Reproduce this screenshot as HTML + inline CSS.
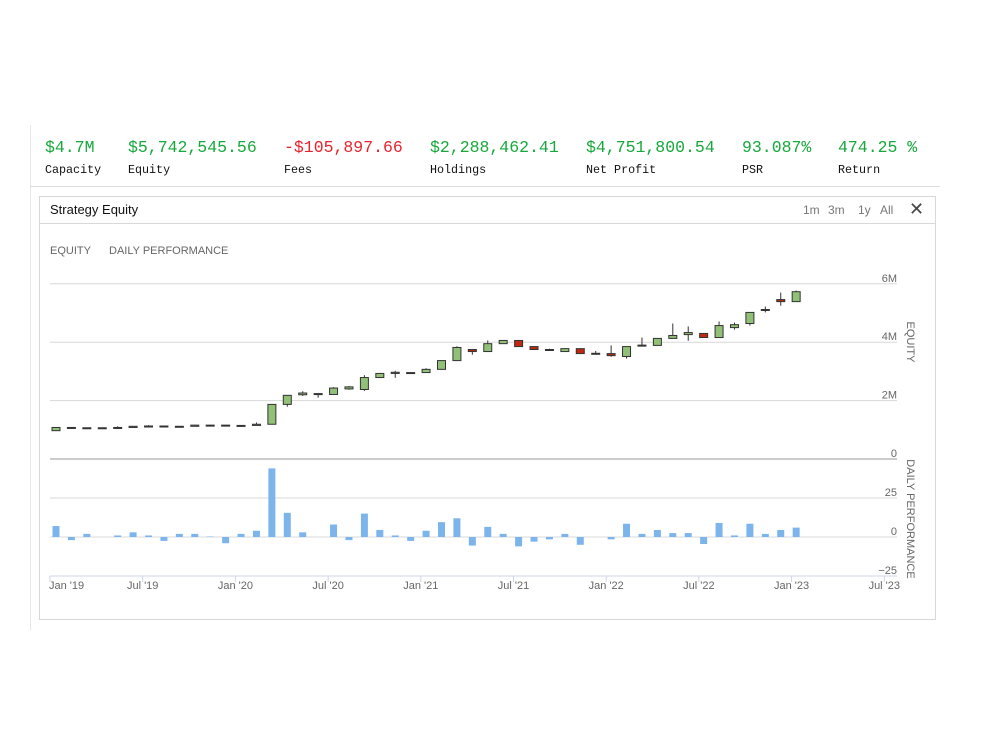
<!DOCTYPE html>
<html><head><meta charset="utf-8">
<style>
body{margin:0;width:1000px;height:750px;background:#fff;position:relative;overflow:hidden;font-family:"Liberation Sans",sans-serif;}
.abs{position:absolute;}
.val{position:absolute;top:138px;font-family:"Liberation Mono",monospace;font-size:16.5px;color:#17a83b;white-space:nowrap;}
.lab{position:absolute;top:163px;font-family:"Liberation Mono",monospace;font-size:11.7px;color:#111;white-space:nowrap;}
.rng{position:absolute;top:203px;font-size:12px;color:#777;}
</style></head>
<body>
<div class="abs" style="left:30px;top:125px;width:1px;height:505px;background:#e6e6e6"></div>
<div class="abs" style="left:30px;top:186px;width:910px;height:1px;background:#ddd"></div>

<div class="val" style="left:45px">$4.7M</div>
<div class="lab" style="left:45px">Capacity</div>
<div class="val" style="left:128px">$5,742,545.56</div>
<div class="lab" style="left:128px">Equity</div>
<div class="val" style="left:284px;color:#e8222c">-$105,897.66</div>
<div class="lab" style="left:284px">Fees</div>
<div class="val" style="left:430px">$2,288,462.41</div>
<div class="lab" style="left:430px">Holdings</div>
<div class="val" style="left:586px">$4,751,800.54</div>
<div class="lab" style="left:586px">Net Profit</div>
<div class="val" style="left:742px">93.087%</div>
<div class="lab" style="left:742px">PSR</div>
<div class="val" style="left:838px">474.25 %</div>
<div class="lab" style="left:838px">Return</div>

<div class="abs" style="left:39px;top:196px;width:895px;height:422px;border:1px solid #d8d8d8"></div>
<div class="abs" style="left:40px;top:223px;width:895px;height:1px;background:#d8d8d8"></div>
<div class="abs" style="left:50px;top:202px;font-size:13px;color:#111">Strategy Equity</div>
<div class="rng" style="left:803px">1m</div>
<div class="rng" style="left:828px">3m</div>
<div class="rng" style="left:858px">1y</div>
<div class="rng" style="left:880px">All</div>
<div class="abs" style="left:909px;top:199px;font-size:18px;color:#444">✕</div>
<div class="abs" style="left:50px;top:245px;font-size:11px;color:#666">EQUITY</div>
<div class="abs" style="left:109px;top:245px;font-size:11px;color:#666">DAILY PERFORMANCE</div>

<svg id="chart" class="abs" style="left:0;top:0" width="1000" height="750" xmlns="http://www.w3.org/2000/svg"></svg>

<script>
const opens  = [0.97,1.08,1.05,1.07,1.07,1.08,1.12,1.13,1.11,1.12,1.16,1.16,1.12,1.15,1.19,1.87,2.20,2.23,2.21,2.40,2.38,2.79,2.93,2.96,2.96,3.07,3.37,3.75,3.68,3.95,4.06,3.85,3.75,3.68,3.78,3.62,3.61,3.51,3.87,3.89,4.13,4.26,4.30,4.16,4.50,4.64,5.12,5.46,5.39];
const closes = [1.08,1.05,1.07,1.07,1.08,1.12,1.13,1.11,1.12,1.16,1.16,1.13,1.15,1.19,1.87,2.18,2.26,2.24,2.43,2.47,2.79,2.93,2.97,2.96,3.07,3.37,3.82,3.68,3.95,4.06,3.85,3.75,3.72,3.78,3.61,3.61,3.54,3.85,3.90,4.13,4.23,4.33,4.16,4.57,4.60,5.02,5.12,5.39,5.73];
const highs  = [1.08,1.08,1.07,1.08,1.12,1.12,1.16,1.13,1.12,1.16,1.17,1.16,1.15,1.25,1.87,2.18,2.32,2.24,2.46,2.50,2.87,2.93,3.02,2.97,3.11,3.37,3.86,3.75,4.06,4.06,4.06,3.85,3.78,3.79,3.78,3.70,3.89,3.85,4.16,4.13,4.64,4.54,4.30,4.71,4.67,5.02,5.22,5.70,5.77];
const lows   = [0.97,1.05,1.05,1.07,1.07,1.08,1.12,1.10,1.11,1.12,1.16,1.13,1.12,1.15,1.19,1.79,2.16,2.10,2.21,2.37,2.33,2.79,2.78,2.96,2.96,3.07,3.37,3.57,3.68,3.95,3.85,3.75,3.71,3.68,3.61,3.61,3.50,3.44,3.86,3.89,4.13,4.05,4.16,4.16,4.43,4.57,5.02,5.25,5.39];
const perf   = [7,-2,2,0,1,3,1,-2.5,2,2,0.3,-4,2,4,44,15.5,3,0,8,-2,15,4.5,1,-2.5,4,9.5,12,-5.5,6.5,2,-6,-3,-1.5,2,-5,0,-1.5,8.5,2,4.5,2.5,2.5,-4.5,9,1,8.5,2,4.5,6];
const eqTicks = [0,2,4,6];
const eqTickLabels = ["0","2M","4M","6M"];
const perfTicks = [-25,0,25];
const xTickLabels = ["Jan '19","Jul '19","Jan '20","Jul '20","Jan '21","Jul '21","Jan '22","Jul '22","Jan '23","Jul '23"];

const svg = document.getElementById('chart');
const NS = 'http://www.w3.org/2000/svg';
const X0 = 50, X1 = 897;
function xMonth(i){ return 56 + i*15.42; }
function xHalf(k){ return 50 + k*92.7; }
function yEq(v){ return 459 - v*29.2; }
function yPerf(v){ return 537 - v*1.56; }
function mk(tag, attrs){ const e=document.createElementNS(NS,tag); for(const k in attrs) e.setAttribute(k,attrs[k]); svg.appendChild(e); return e; }

eqTicks.forEach((t,i)=>{
  const y=yEq(t);
  const l=mk('line',{x1:X0,x2:X1,y1:y,y2:y,stroke:t===0?'#ccc':'#d8d8d8','stroke-width':t===0?2:1});
  
  
  const tx=mk('text',{x:X1,y:y-2,'text-anchor':'end','font-size':11,fill:'#666','font-family':'Liberation Sans, sans-serif'});
  tx.textContent=eqTickLabels[i];
  
  
});
perfTicks.forEach(t=>{
  const y=yPerf(t);
  if(t!==-25){
    const l=mk('line',{x1:X0,x2:X1,y1:y,y2:y,stroke:'#d8d8d8','stroke-width':1});
    
    
  }
  const tx=mk('text',{x:X1,y:y-2,'text-anchor':'end','font-size':11,fill:'#666','font-family':'Liberation Sans, sans-serif'});
  tx.textContent=t<0?'−'+Math.abs(t):String(t);
  
  
});
const ax=mk('line',{x1:X0,x2:X1,y1:576,y2:576,stroke:'#ccd6eb','stroke-width':1});


xTickLabels.forEach((lab,k)=>{
  const x=xHalf(k);
  const tk=mk('line',{x1:x,x2:x,y1:576,y2:582,stroke:'#ccd6eb'});
  
  
  const tx=mk('text',{x:k===0?x-1:x,y:589,'text-anchor':k===0?'start':'middle','font-size':11,fill:'#666','font-family':'Liberation Sans, sans-serif'});
  tx.textContent=lab;
  
  
});
perf.forEach((v,i)=>{
  if(v===0) return;
  const x=xMonth(i), y0=yPerf(0), y1=yPerf(v);
  const r=mk('rect',{x:x-3.5,y:Math.min(y0,y1),width:7,height:Math.abs(y1-y0),fill:'#7cb5ec'});
  
  
});
opens.forEach((o,i)=>{
  const c=closes[i], x=xMonth(i);
  const w=mk('line',{x1:x,x2:x,y1:yEq(highs[i]),y2:yEq(lows[i]),stroke:'#333','stroke-width':1});
  
  
  const top=yEq(Math.max(o,c)), bot=yEq(Math.min(o,c));
  const r=mk('rect',{x:x-4,y:top,width:8,height:Math.max(bot-top,1),fill:c>=o?'#90c177':'#c0280f',stroke:'#333','stroke-width':1});
  
  
});
const t1=mk('text',{x:0,y:0,'font-size':11,fill:'#666','text-anchor':'middle','font-family':'Liberation Sans, sans-serif',transform:'translate(907,342) rotate(90)'});
t1.textContent='EQUITY';


const t2=mk('text',{x:0,y:0,'font-size':11,fill:'#666','text-anchor':'middle','font-family':'Liberation Sans, sans-serif',transform:'translate(907,519) rotate(90)'});
t2.textContent='DAILY PERFORMANCE';


</script>
</body></html>
